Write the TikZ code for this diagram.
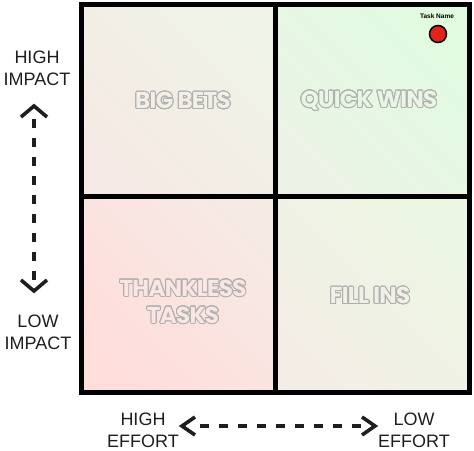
\documentclass[tikz,border=0pt]{standalone}
\usepackage{fontspec}
\usepackage[copies]{contour}
\setmainfont{Liberation Sans}
\newfontfamily\quadfont[LetterSpace=-3]{Poppins}
\definecolor{labc}{HTML}{1E1E1E}
\definecolor{taskred}{HTML}{E5211B}
\definecolor{outg}{RGB}{176,176,176}
\definecolor{tlA}{RGB}{245,234,229}
\definecolor{tlB}{RGB}{239,243,231}
\definecolor{trA}{RGB}{236,243,230}
\definecolor{trB}{RGB}{224,251,224}
\definecolor{blA}{RGB}{255,221,219}
\definecolor{blB}{RGB}{246,234,229}
\definecolor{brA}{RGB}{244,237,230}
\definecolor{brB}{RGB}{235,246,227}
\definecolor{bgTL}{RGB}{242,239,231}
\definecolor{bgTR}{RGB}{232,246,228}
\definecolor{bgBL}{RGB}{249,230,226}
\definecolor{bgBR}{RGB}{240,240,230}
\contourlength{0.9pt}
\contournumber{24}
\newcommand{\hollowtxt}[2]{\contour{outg}{\textcolor{#1}{#2}}}
\begin{document}
\begin{tikzpicture}[x=1pt,y=-1pt,
  lab/.style={font=\fontsize{18}{22}\selectfont, text=labc, align=center, inner sep=0pt},
  quadlab/.style={font=\quadfont\bfseries\fontsize{23}{27}\selectfont, align=center, inner sep=0pt},
  frameline/.style={line width=5pt, line join=miter},
  dashline/.style={line width=3.6pt, dash pattern=on 9pt off 10pt, labc},
  chev/.style={line width=3.6pt, line join=miter, labc},
  diag/.style n args={2}{bottom color=#1, top color=#2, shading angle=-45}
]
\useasboundingbox (0,0) rectangle (474,450);
% quadrant fills
\shade[diag={tlA}{tlB}] (81,4) rectangle (275,196);
\shade[diag={trA}{trB}] (275,4) rectangle (469,196);
\shade[diag={blA}{blB}] (81,196) rectangle (275,392);
\shade[diag={brA}{brB}] (275,196) rectangle (469,392);
% frame and cross
\draw[frameline] (81,4) rectangle (469,392);
\draw[frameline] (275,4) -- (275,392);
\draw[frameline] (81,196) -- (469,196);
% quadrant labels
\node[quadlab] (bigbets) at (183,101) {\hollowtxt{bgTL}{BIG BETS}};
\node[quadlab] (quickwins) at (369,101) {\hollowtxt{bgTR}{QUICK WINS}};
\node[quadlab] (thankless) at (183,302) {\hollowtxt{bgBL}{THANKLESS}\\\hollowtxt{bgBL}{TASKS}};
\node[quadlab] (fillins) at (370,296) {\hollowtxt{bgBR}{FILL INS}};
% task
\node[circle, draw=black, line width=1.5pt, fill=taskred, minimum size=17pt, inner sep=0pt] (task) at (438,34) {};
\node[font=\bfseries\fontsize{6.5}{7}\selectfont, inner sep=0pt] (taskname) at (437,16) {Task Name};
% axis labels
\node[lab] (highimpact) at (37,68) {HIGH\\IMPACT};
\node[lab] (lowimpact) at (38,332) {LOW\\IMPACT};
\node[lab] (higheffort) at (143,430) {HIGH\\EFFORT};
\node[lab] (loweffort) at (414,430) {LOW\\EFFORT};
% vertical arrow
\coordinate (vt) at (34,106);
\coordinate (vb) at (34,291);
\coordinate (vt1) at (34,119);
\coordinate (vb1) at (34,280);
\draw[dashline] (vt1) -- (vb1);
\draw[chev] (vt) ++(-13,11) -- (vt) -- ++(13,11);
\draw[chev] (vb) ++(-13,-11) -- (vb) -- ++(13,-11);
% horizontal arrow
\coordinate (hl) at (182,426);
\coordinate (hr) at (375,426);
\coordinate (hl1) at (200,426);
\coordinate (hr1) at (361,426);
\draw[dashline] (hl1) -- (hr1);
\draw[chev] (hl) ++(13,-9) -- (hl) -- ++(13,9);
\draw[chev] (hr) ++(-13,-9) -- (hr) -- ++(-13,9);
\end{tikzpicture}
\end{document}
